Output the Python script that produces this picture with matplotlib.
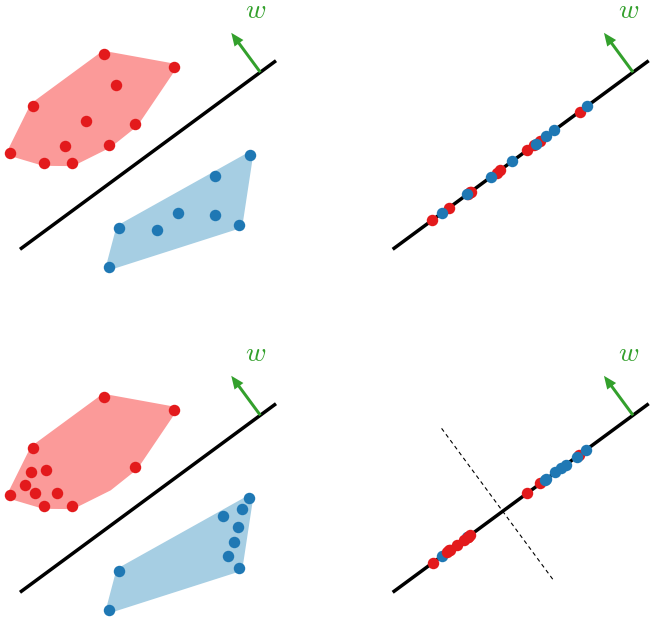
import numpy as np
import matplotlib
matplotlib.use("Agg")
import matplotlib.pyplot as plt
from matplotlib.patches import Polygon

plt.rcParams['mathtext.fontset'] = 'cm'

# ---------------- data ----------------
# first sample (top row)
red_a_x = [1.037, 1.737, 1.163, 0.333, 0.857, 1.350, 0.100, 0.647, 1.090, 0.437, 0.723]
red_a_y = [2.560, 2.433, 2.253, 2.043, 1.890, 1.860, 1.573, 1.637, 1.653, 1.473, 1.470]
blue_a_x = [2.500, 2.153, 1.777, 2.153, 2.393, 1.193, 1.573, 1.090]
blue_a_y = [1.550, 1.343, 0.970, 0.950, 0.847, 0.820, 0.800, 0.430]

# second sample (bottom row)
red_b_x = [1.037, 1.737, 0.333, 0.310, 0.463, 0.253, 0.100, 0.353, 0.570, 0.437, 0.723, 1.350]
red_b_y = [2.564, 2.430, 2.047, 1.807, 1.834, 1.680, 1.580, 1.597, 1.597, 1.474, 1.467, 1.860]
blue_b_x = [2.493, 2.233, 2.420, 2.383, 2.343, 2.280, 2.390, 1.193, 1.087]
blue_b_y = [1.547, 1.370, 1.444, 1.264, 1.107, 0.970, 0.847, 0.824, 0.434]

# projection line (end points) and direction-vector arrow
line_x = [0.20, 2.76]
line_y = [0.607, 2.493]
arrow_base_t = 2.985      # position of arrow tail along the line
arrow_len = 0.49
label_offset = (0.243, 0.15)

# threshold on the projection (bottom-right panel)
threshold_t = 1.366
threshold_up = 1.03
threshold_down = 0.87

RED = '#e31a1c'
BLUE = '#1f78b4'
RED_FILL = '#fb9a99'
BLUE_FILL = '#a6cee3'
GREEN = '#33a02c'


def convex_hull(xs, ys):
    pts = sorted(set(zip(xs, ys)))
    def cross(o, a, b):
        return (a[0]-o[0])*(b[1]-o[1]) - (a[1]-o[1])*(b[0]-o[0])
    lower, upper = [], []
    for p in pts:
        while len(lower) >= 2 and cross(lower[-2], lower[-1], p) <= 0:
            lower.pop()
        lower.append(p)
    for p in reversed(pts):
        while len(upper) >= 2 and cross(upper[-2], upper[-1], p) <= 0:
            upper.pop()
        upper.append(p)
    return np.array(lower[:-1] + upper[:-1])


p0 = np.array([line_x[0], line_y[0]])
p1 = np.array([line_x[1], line_y[1]])
u = (p1 - p0) / np.linalg.norm(p1 - p0)
n = np.array([-u[1], u[0]])


def project(xs, ys):
    P = np.column_stack([xs, ys])
    t = (P - p0) @ u
    Q = p0 + np.outer(t, u)
    return Q[:, 0], Q[:, 1], t


red_hull = convex_hull(red_a_x, red_a_y)
blue_hull = convex_hull(blue_a_x, blue_a_y)

fig = plt.figure(figsize=(6.52, 6.19), dpi=100)

xlim_left = (0.0, 3.26)
xlim_right = (-0.467, 2.793)
ylim_top = (0.005, 3.10)
ylim_bot = (0.34, 3.435)

panels = [
    ([0.0, 0.5, 0.5, 0.5], xlim_left, ylim_top, 'scatter', (red_a_x, red_a_y, blue_a_x, blue_a_y), False),
    ([0.5, 0.5, 0.5, 0.5], xlim_right, ylim_top, 'proj', (red_a_x, red_a_y, blue_a_x, blue_a_y), False),
    ([0.0, 0.0, 0.5, 0.5], xlim_left, ylim_bot, 'scatter', (red_b_x, red_b_y, blue_b_x, blue_b_y), False),
    ([0.5, 0.0, 0.5, 0.5], xlim_right, ylim_bot, 'proj', (red_b_x, red_b_y, blue_b_x, blue_b_y), True),
]

for rect, xl, yl, kind, (rx, ry, bx, by), thresh in panels:
    ax = fig.add_axes(rect)
    ax.set_xlim(*xl)
    ax.set_ylim(*yl)
    ax.axis('off')

    ax.plot(line_x, line_y, color='black', lw=2.5, zorder=2, solid_capstyle='butt')

    if kind == 'scatter':
        ax.add_patch(Polygon(red_hull, closed=True, facecolor=RED_FILL, edgecolor=RED_FILL,
                             lw=4.5, joinstyle='round', zorder=1))
        ax.add_patch(Polygon(blue_hull, closed=True, facecolor=BLUE_FILL, edgecolor=BLUE_FILL,
                             lw=4.5, joinstyle='round', zorder=1))
        ax.scatter(rx, ry, s=68, color=RED, linewidths=0, zorder=3)
        ax.scatter(bx, by, s=68, color=BLUE, linewidths=0, zorder=3)
    else:
        prx, pry, _ = project(rx, ry)
        pbx, pby, tb = project(bx, by)
        if thresh:
            low = tb < threshold_t
            ax.scatter(pbx[low], pby[low], s=68, color=BLUE, linewidths=0, zorder=3)
            ax.scatter(prx, pry, s=68, color=RED, linewidths=0, zorder=3)
            ax.scatter(pbx[~low], pby[~low], s=68, color=BLUE, linewidths=0, zorder=3)
        else:
            ax.scatter(prx, pry, s=68, color=RED, linewidths=0, zorder=3)
            ax.scatter(pbx, pby, s=68, color=BLUE, linewidths=0, zorder=3)

    if thresh:
        c = p0 + threshold_t * u
        a = c + threshold_up * n
        b = c - threshold_down * n
        ax.plot([a[0], b[0]], [a[1], b[1]], color='black', lw=0.8,
                linestyle=(0, (3.6, 3.0)), zorder=2)

    base = p0 + arrow_base_t * u
    ax.arrow(base[0], base[1], arrow_len * n[0], arrow_len * n[1],
             width=0.03, head_width=0.11, head_length=0.13,
             length_includes_head=True, color=GREEN, zorder=4, lw=0)
    tip = base + arrow_len * n
    ax.text(tip[0] + label_offset[0], tip[1] + label_offset[1], r'$w$',
            color=GREEN, fontsize=20, ha='center', va='baseline')

fig.savefig('out.png', dpi=100)
